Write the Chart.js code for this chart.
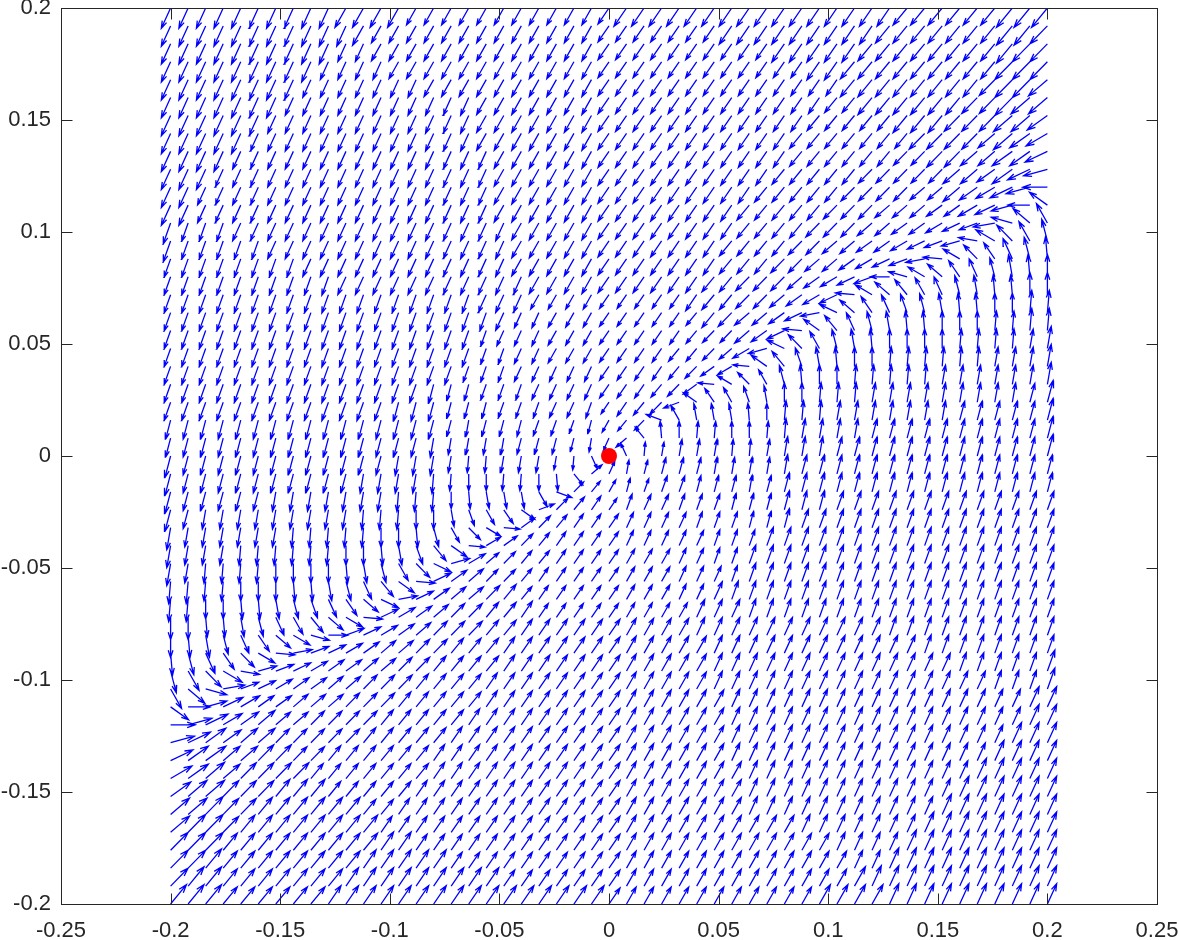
<!DOCTYPE html>
<html>
<head>
<meta charset="utf-8">
<title>Campo de direções</title>
<script src="https://cdn.jsdelivr.net/npm/chart.js@4.4.1/dist/chart.umd.min.js"></script>
<style>
    html, body { margin: 0; padding: 0; background: #ffffff; }
    #quadro { width: 1179px; height: 940px; }
</style>
</head>
<body>
<div id="quadro"><canvas id="graficoCampo" width="1179" height="940"></canvas></div>
<script>
// Grade das setas (colunas da esquerda para a direita, linhas de cima para baixo)
const gradeX = [-0.2, -0.192, -0.184, -0.176, -0.168, -0.16, -0.152, -0.144, -0.136, -0.128,
    -0.12, -0.112, -0.104, -0.096, -0.088, -0.08, -0.072, -0.064, -0.056, -0.048,
    -0.04, -0.032, -0.024, -0.016, -0.008, 0, 0.008, 0.016, 0.024, 0.032,
    0.04, 0.048, 0.056, 0.064, 0.072, 0.08, 0.088, 0.096, 0.104, 0.112,
    0.12, 0.128, 0.136, 0.144, 0.152, 0.16, 0.168, 0.176, 0.184, 0.192, 0.2];
const gradeY = [0.2, 0.192, 0.184, 0.176, 0.168, 0.16, 0.152, 0.144, 0.136, 0.128,
    0.12, 0.112, 0.104, 0.096, 0.088, 0.08, 0.072, 0.064, 0.056, 0.048,
    0.04, 0.032, 0.024, 0.016, 0.008, 0, -0.008, -0.016, -0.024, -0.032,
    -0.04, -0.048, -0.056, -0.064, -0.072, -0.08, -0.088, -0.096, -0.104, -0.112,
    -0.12, -0.128, -0.136, -0.144, -0.152, -0.16, -0.168, -0.176, -0.184, -0.192, -0.2];

// Direção de cada seta, em passos de 5 graus (índice no alfabeto abaixo), "código:repetições"
const codigosAngulo = '0123456789abcdefghijklmnopqrstuvwxyzABCDEFGHIJKLMNOPQRSTUVWXYZ!#$%&*+-=?';
const linhasAngulo = [
    'N:10 M:15 L:17 K:9',
    'N:11 M:14 L:16 K:9 J',
    'N:12 M:13 L:15 K:9 J:2',
    'N:13 M:12 L:14 K:9 J:3',
    'N:15 M:10 L:14 K:8 J:3 I',
    'N:18 M:7 L:13 K:8 J:3 I:2',
    'N:18 M:7 L:12 K:8 J:3 I:2 H',
    'N:18 M:7 L:11 K:7 J:4 I:2 H G',
    'N:19 M:6 L:11 K:6 J:4 I:2 H:2 F',
    'N:19 M:6 L:10 K:5 J:5 I:2 H:2 F D',
    'N:19 M:6 L:9 K:5 J:4 I:3 H G F D A',
    'N:19 M:6 L:8 K:5 J:3 I:3 H:2 G F D A t',
    'O:4 N:16 M:5 L:8 K:4 J:3 I:2 H:2 G F E C x s o',
    'O:6 N:14 M:5 L:7 K:4 J:2 I:2 H:2 G F E D y u r o l',
    'O:8 N:12 M:5 L:7 K:3 J:2 I:2 H G F E C z u r p n l j',
    'O:10 N:11 M:4 L:6 K:2 J:3 I H G F E A x u s p n l k j i',
    'O:18 N:3 M:4 L:6 K:2 J:2 I H G F z u s q o n l k j:2 i:2',
    'O:19 N:3 M:3 L:5 K:2 J I:2 H F C v s p n m l k j:2 i:2 h:2',
    'O:19 N:3 M:3 L:5 K J:2 I H F z t q n l k j:2 i:3 h:4',
    'O:20 N:2 M:3 L:4 K:2 J I G D v r o l k j i:4 h:4 g:2',
    'O:20 N:5 L:4 K J H G z t q m k j i:2 h:6 g:4',
    'O:15 P:3 O:3 N:4 L:3 K J H z u r o l j i:2 h:5 g:7',
    'O:13 P:6 O:3 N:2 O L:2 K J E t p o m k i:2 h:3 g:9 f:2',
    'P:17 Q P:3 O:3 P M K J w o k:3 j i h:3 g:7 f:6',
    'P:15 Q:5 P:4 Q N I q j i h:2 i:2 h:2 g:4 f:11',
    'P:13 Q:4 R:2 Q:4 R X 0 n h g:4 h:2 g:4 f:13',
    'P:11 Q:4 R:2 S:2 R:2 S T ! 8 d g f:4 g:5 f:15',
    'P:6 Q:7 R:3 S T U:3 Y + 9 a c f e:3 f:3 g f:17',
    'P:2 Q:9 R:3 S:2 U W Y Z % 4 9 a b:2 e d:2 e:3 f:6 e:13',
    'Q:7 R:5 S:2 T V Y # & ? 7 9 a b:3 d:4 e:3 f:3 e:15',
    'Q:4 R:6 S:2 T U W ! % ? 6 7 9 a b:4 d:5 e:20',
    'Q:2 R:4 S:4 T U V Y # * 3 6 8 9 a:2 b:4 c:3 d:2 e:20',
    'R:4 S:3 T:2 U V X ! % ? 5 7 8 9:2 a b:5 c:3 d:3 e:19',
    'R:2 S:2 T:2 U V W X Z $ * 2 5 7 8:2 9 a:2 b:5 c:3 d:3 e:19',
    'S:2 T:2 U V X Y ! $ & ? 5 6 7 8 9:2 a:2 b:6 c:4 d:3 e:18',
    'S T U V X Z $ & - 0 4 5 6 7 8 9:3 a:2 b:6 c:4 d:11 e:10',
    'T V X Z # & ? 2 4 5 6 7 8:2 9:2 a:3 b:7 c:5 d:12 e:8',
    'V Y # & = 3 4 5 6 7:2 8:2 9:2 a:4 b:7 c:5 d:14 e:6',
    'Y $ - 2 4 5 6 7:2 8:2 9:3 a:4 b:8 c:5 d:16 e:4',
    '% 0 3 5 6 7:2 8:3 9:3 a:5 b:8 c:6 d:19',
    '0 3 5 6 7 8:3 9:4 a:5 b:9 c:6 d:19',
    '3 5 7:2 8:2 9:5 a:5 b:10 c:6 d:19',
    '5 7:2 8:2 9:4 a:6 b:11 c:6 d:19',
    '6 7 8:2 9:4 a:7 b:11 c:7 d:18',
    '7 8:2 9:3 a:8 b:12 c:7 d:18',
    '8:2 9:3 a:8 b:13 c:7 d:18',
    '8 9:3 a:8 b:14 c:10 d:15',
    '9:3 a:9 b:14 c:12 d:13',
    '9:2 a:9 b:15 c:13 d:12',
    '9 a:9 b:16 c:14 d:11',
    'a:9 b:17 c:15 d:10'
];

// Comprimento relativo de cada seta (0 a 9), "valor:repetições"
const linhasComprimento = [
    '8:14 7:12 8:22 9:3',
    '8:12 7:20 8:16 9:3',
    '8:10 7:25 8:13 9:3',
    '8:9 7:28 8:11 9:3',
    '8:8 7:31 8:9 9:3',
    '8:7 7:33 8:8 9:3',
    '8:6 7:36 8:6 9:3',
    '8:5 7:38 8:5 9:3',
    '8:4 7:40 8:4 9:3',
    '8:3 7:42 8:3 9:3',
    '8:2 7:43 8:3 9:3',
    '8:2 7:44 8:5',
    '8 7:46 8:4',
    '8 7:46 8:4',
    '7:48 8:3',
    '7:48 8:3',
    '7:21 6:9 7:19 8:2',
    '7:20 6:11 7:18 8:2',
    '7:18 6:15 7:16 8:2',
    '7:18 6:15 7:17 8',
    '7:17 6:17 7:16 8',
    '7:16 6:19 7:15 8',
    '7:16 6:9 5 6:9 7:15 8',
    '7:16 6:7 5:5 6:7 7:15 8',
    '7:16 6:7 5:5 6:7 7:15 8',
    '8 7:15 6:6 5:3 0 5:3 6:6 7:15 8',
    '8 7:15 6:7 5:5 6:7 7:16',
    '8 7:15 6:7 5:5 6:7 7:16',
    '8 7:15 6:9 5 6:9 7:16',
    '8 7:15 6:19 7:16',
    '8 7:16 6:17 7:17',
    '8 7:17 6:15 7:18',
    '8:2 7:16 6:15 7:18',
    '8:2 7:18 6:11 7:20',
    '8:2 7:19 6:9 7:21',
    '8:3 7:48',
    '8:3 7:48',
    '8:4 7:46 8',
    '8:4 7:46 8',
    '8:5 7:44 8:2',
    '9:3 8:3 7:43 8:2',
    '9:3 8:3 7:42 8:3',
    '9:3 8:4 7:40 8:4',
    '9:3 8:5 7:38 8:5',
    '9:3 8:6 7:36 8:6',
    '9:3 8:8 7:33 8:7',
    '9:3 8:9 7:31 8:8',
    '9:3 8:11 7:28 8:9',
    '9:3 8:13 7:25 8:10',
    '9:3 8:16 7:20 8:12',
    '9:3 8:22 7:12 8:14'
];

// Ponto de equilíbrio (vermelho)
const pontoEquilibrio = [{ x: 0, y: 0 }];

// Marcas e rótulos dos eixos
const ticksX = [-0.25, -0.2, -0.15, -0.1, -0.05, 0, 0.05, 0.1, 0.15, 0.2, 0.25];
const rotulosX = ['-0.25', '-0.2', '-0.15', '-0.1', '-0.05', '0', '0.05', '0.1', '0.15', '0.2', '0.25'];
const ticksY = [-0.2, -0.15, -0.1, -0.05, 0, 0.05, 0.1, 0.15, 0.2];
const rotulosY = ['-0.2', '-0.15', '-0.1', '-0.05', '0', '0.05', '0.1', '0.15', '0.2'];

// Tamanho das setas e da ponta (como no quiver do MATLAB)
const passoComprimento = 0.00125;
const alfa = 0.33;
const beta = 0.33;
const corEixo = '#262626';
const fonteEixo = { family: "'Liberation Sans', Arial, Helvetica, sans-serif", size: 22 };

let grafico = null;

// Expande uma linha "código:repetições"
function expandirLinha(linha) {
    const celulas = [];
    linha.split(' ').forEach(token => {
        const partes = token.split(':');
        const vezes = partes.length > 1 ? Number(partes[1]) : 1;
        for (let k = 0; k < vezes; k++) celulas.push(partes[0]);
    });
    return celulas;
}

// Monta os segmentos das setas (haste + ponta), separados por null
function montarSetas() {
    const pontos = [];
    for (let i = 0; i < gradeY.length; i++) {
        const angulos = expandirLinha(linhasAngulo[i]);
        const comprimentos = expandirLinha(linhasComprimento[i]);
        if (angulos.length !== gradeX.length || comprimentos.length !== gradeX.length) {
            throw new Error('linha ' + i + ': ' + angulos.length + ' / ' + comprimentos.length);
        }
        for (let j = 0; j < gradeX.length; j++) {
            const comp = Number(comprimentos[j]) * passoComprimento;
            if (!comp) continue;
            const a = codigosAngulo.indexOf(angulos[j]) * 5 * Math.PI / 180;
            const u = comp * Math.cos(a);
            const v = comp * Math.sin(a);
            const x = gradeX[j];
            const y = gradeY[i];
            const px = x + u;
            const py = y + v;
            pontos.push({ x: x, y: y }, { x: px, y: py }, { x: null, y: null });
            pontos.push(
                { x: px - alfa * (u + beta * v), y: py - alfa * (v - beta * u) },
                { x: px, y: py },
                { x: px - alfa * (u - beta * v), y: py - alfa * (v + beta * u) },
                { x: null, y: null }
            );
        }
    }
    return pontos;
}

// Moldura com marcas para dentro nos quatro lados
const moldura = {
    id: 'moldura',
    afterDraw(chart) {
        const { ctx, chartArea: area, scales } = chart;
        const esq = Math.round(area.left) + 0.5;
        const dir = Math.round(area.right) + 0.5;
        const topo = Math.round(area.top) + 0.5;
        const base = Math.round(area.bottom) + 0.5;
        ctx.save();
        ctx.strokeStyle = corEixo;
        ctx.lineWidth = 1;
        ctx.strokeRect(esq, topo, dir - esq, base - topo);
        ctx.beginPath();
        ticksX.forEach(t => {
            const p = Math.round(scales.x.getPixelForValue(t)) + 0.5;
            ctx.moveTo(p, base); ctx.lineTo(p, base - 11);
            ctx.moveTo(p, topo); ctx.lineTo(p, topo + 11);
        });
        ticksY.forEach(t => {
            const p = Math.round(scales.y.getPixelForValue(t)) + 0.5;
            ctx.moveTo(esq, p); ctx.lineTo(esq + 11, p);
            ctx.moveTo(dir, p); ctx.lineTo(dir - 11, p);
        });
        ctx.stroke();
        ctx.restore();
    }
};

// Cria o gráfico
function criarGrafico() {
    const ctx = document.getElementById('graficoCampo').getContext('2d');
    grafico = new Chart(ctx, {
        type: 'scatter',
        data: {
            datasets: [{
                data: pontoEquilibrio,
                pointRadius: 8,
                pointBackgroundColor: '#ff0000',
                pointBorderColor: '#ff0000',
                pointBorderWidth: 0,
                showLine: false
            }, {
                data: montarSetas(),
                showLine: true,
                spanGaps: false,
                pointRadius: 0,
                pointHoverRadius: 0,
                borderColor: '#0000ff',
                borderWidth: 1.3,
                tension: 0,
                fill: false
            }]
        },
        options: {
            responsive: false,
            animation: false,
            events: [],
            layout: { padding: { top: 7, right: 22, left: 0, bottom: 0 } },
            plugins: {
                legend: { display: false },
                tooltip: { enabled: false }
            },
            scales: {
                x: {
                    type: 'linear',
                    min: -0.25,
                    max: 0.25,
                    afterBuildTicks: s => { s.ticks = ticksX.map(v => ({ value: v })); },
                    afterFit: s => { s.height = 36; s.paddingLeft = 0; s.paddingRight = 0; },
                    ticks: {
                        callback: (v, i) => rotulosX[i],
                        color: corEixo,
                        font: fonteEixo,
                        padding: 14,
                        maxRotation: 0,
                        autoSkip: false
                    },
                    grid: { display: false, drawTicks: false },
                    border: { display: false }
                },
                y: {
                    type: 'linear',
                    min: -0.2,
                    max: 0.2,
                    afterBuildTicks: s => { s.ticks = ticksY.map(v => ({ value: v })); },
                    afterFit: s => { s.width = 61; s.paddingTop = 0; s.paddingBottom = 0; },
                    ticks: {
                        callback: (v, i) => rotulosY[i],
                        color: corEixo,
                        font: fonteEixo,
                        padding: 10,
                        autoSkip: false
                    },
                    grid: { display: false, drawTicks: false },
                    border: { display: false }
                }
            }
        },
        plugins: [moldura]
    });
}

criarGrafico();
</script>
</body>
</html>
